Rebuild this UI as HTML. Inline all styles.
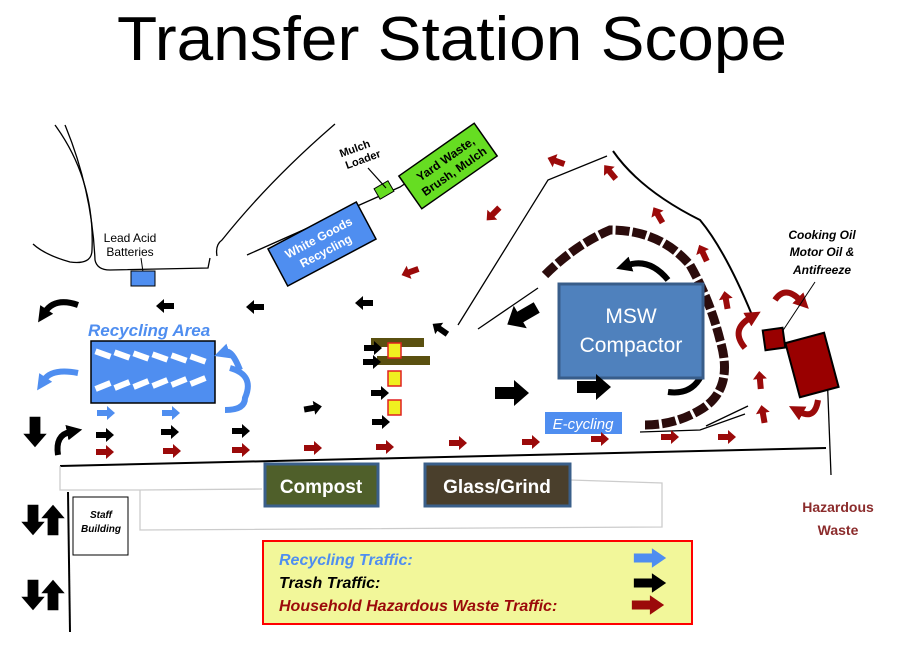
<!DOCTYPE html>
<html><head><meta charset="utf-8"><style>
html,body{margin:0;padding:0;background:#fff;}
svg{display:block;}
text{font-family:"Liberation Sans",sans-serif;}
</style></head><body>
<svg width="906" height="672" viewBox="0 0 906 672" xmlns="http://www.w3.org/2000/svg">
<defs>
<path id="a" d="M-9,-3 H1 V-7 L9,0 L1,7 V3 H-9 Z"/>
<path id="A" d="M-17,-6 H2 V-13 L17,0 L2,13 V6 H-17 Z"/>
<marker id="hk" viewBox="0 0 5 5" markerWidth="2.6" markerHeight="2.6" refX="1" refY="2.5" orient="auto"><path d="M0,0 L5,2.5 L0,5 Z" fill="#000"/></marker>
<marker id="hb" viewBox="0 0 5 5" markerWidth="2.6" markerHeight="2.6" refX="1" refY="2.5" orient="auto"><path d="M0,0 L5,2.5 L0,5 Z" fill="#4f8ef0"/></marker>
<marker id="hr" viewBox="0 0 5 5" markerWidth="2.6" markerHeight="2.6" refX="1" refY="2.5" orient="auto"><path d="M0,0 L5,2.5 L0,5 Z" fill="#9b0a0a"/></marker>
</defs>

<text x="452" y="60" font-size="62" text-anchor="middle" textLength="670" lengthAdjust="spacingAndGlyphs">Transfer Station Scope</text>

<!-- thin lines -->
<g fill="none" stroke="#000" stroke-width="1.3">
<path d="M55,125 Q95,180 92,250 Q92,265 70,262 Q45,255 33,244"/>
<path d="M65,125 Q92,190 95,260 Q97,270 110,270 L208,268 L210,258"/>
<path d="M217,256 Q215,245 222,240 Q270,180 335,124"/>
<path d="M247,255 L400,187 L440,160"/>
<path d="M458,325 L548,180 L607,156"/>
<path d="M478,329 L538,288"/>
<path d="M613,151 Q640,190 700,220 Q725,250 752,315" stroke-width="2"/>
<path d="M60,466 L826,448" stroke-width="2"/>
<path d="M60,466 L60,490 L140,490 L140,530 L662,527 L662,483 L570,480 M140,490 L262,489" stroke="#ccc"/>
<path d="M826,345 L831,475" />
<path d="M68,492 L70,632" stroke-width="2"/>
<path d="M640,432 L700,430 L745,414" />
<path d="M706,426 L748,406" />
</g>

<!-- brick arc -->
<path d="M545,275 Q575,245 610,230 Q660,230 690,265 Q710,300 720,340 Q735,390 700,410 Q675,425 645,425" fill="none" stroke="#2b0c0c" stroke-width="9" stroke-dasharray="14,3"/>

<!-- top left items -->
<text x="130" y="242" font-size="12" text-anchor="middle">Lead Acid</text>
<text x="130" y="256" font-size="12" text-anchor="middle">Batteries</text>
<line x1="141" y1="258" x2="143" y2="272" stroke="#000"/>
<rect x="131" y="271" width="24" height="15" fill="#4f8ef0" stroke="#000"/>

<g transform="translate(322,244) rotate(-28)">
<rect x="-50" y="-21" width="100" height="42" fill="#4f8ef0" stroke="#000" stroke-width="1.5"/>
<text x="0" y="-3" font-size="12" font-weight="bold" fill="#fff" text-anchor="middle">White Goods</text>
<text x="0" y="12" font-size="12" font-weight="bold" fill="#fff" text-anchor="middle">Recycling</text>
</g>
<g transform="translate(448,166) rotate(-35)">
<rect x="-46" y="-20" width="92" height="40" fill="#66dd22" stroke="#000" stroke-width="1.5"/>
<text x="2" y="-3" font-size="12" font-weight="bold" text-anchor="middle">Yard Waste,</text>
<text x="2" y="12" font-size="12" font-weight="bold" text-anchor="middle">Brush, Mulch</text>
</g>
<g transform="translate(384,190) rotate(-30)"><rect x="-8" y="-6" width="16" height="12" fill="#66dd22" stroke="#000"/></g>
<g transform="translate(356,152) rotate(-20)">
<text x="0" y="0" font-size="11" font-weight="bold" text-anchor="middle">Mulch</text>
<text x="4" y="13" font-size="11" font-weight="bold" text-anchor="middle">Loader</text>
</g>
<line x1="368" y1="168" x2="386" y2="188" stroke="#000" stroke-width="1.2"/>

<!-- recycling area -->
<text x="88" y="336" font-size="17" font-weight="bold" font-style="italic" fill="#4f8ef0">Recycling Area</text>
<rect x="91" y="341" width="124" height="62" fill="#4f8ef0" stroke="#000" stroke-width="1.5"/>
<g fill="#fff">
<g transform="translate(103,354) rotate(20)"><rect x="-8" y="-3" width="16" height="6"/></g>
<g transform="translate(122,355) rotate(20)"><rect x="-8" y="-3" width="16" height="6"/></g>
<g transform="translate(141,356) rotate(20)"><rect x="-8" y="-3" width="16" height="6"/></g>
<g transform="translate(160,357) rotate(20)"><rect x="-8" y="-3" width="16" height="6"/></g>
<g transform="translate(179,358) rotate(20)"><rect x="-8" y="-3" width="16" height="6"/></g>
<g transform="translate(198,359) rotate(20)"><rect x="-8" y="-3" width="16" height="6"/></g>
<g transform="translate(103,386) rotate(-22)"><rect x="-8" y="-3" width="16" height="6"/></g>
<g transform="translate(122,385) rotate(-22)"><rect x="-8" y="-3" width="16" height="6"/></g>
<g transform="translate(141,384) rotate(-22)"><rect x="-8" y="-3" width="16" height="6"/></g>
<g transform="translate(160,383) rotate(-22)"><rect x="-8" y="-3" width="16" height="6"/></g>
<g transform="translate(179,382) rotate(-22)"><rect x="-8" y="-3" width="16" height="6"/></g>
<g transform="translate(198,381) rotate(-22)"><rect x="-8" y="-3" width="16" height="6"/></g>
</g>

<!-- curved arrows -->
<g fill="none" stroke-width="6">
<path d="M78,305 Q55,297 45,312" stroke="#000" marker-end="url(#hk)"/>
<path d="M78,373 Q52,368 44,380" stroke="#4f8ef0" marker-end="url(#hb)"/>
<path d="M230,368 Q255,375 245,398 Q245,410 225,410" stroke="#4f8ef0"/>
<path d="M240,370 Q232,350 226,352" stroke="#4f8ef0" marker-end="url(#hb)"/>
<path d="M58,455 Q55,435 70,432" stroke="#000" marker-end="url(#hk)"/>
<path d="M668,280 Q650,258 628,265" stroke="#000" marker-end="url(#hk)"/>
<path d="M700,378 Q690,395 668,392" stroke="#000"/>
<path d="M745,348 Q730,330 750,318" stroke="#9b0a0a" marker-end="url(#hr)"/>
<path d="M775,300 Q785,285 800,300" stroke="#9b0a0a" marker-end="url(#hr)"/>
<path d="M818,400 Q815,420 800,412" stroke="#9b0a0a" marker-end="url(#hr)"/>
</g>

<!-- stations -->
<rect x="371" y="338" width="53" height="9" fill="#5a5010"/>
<rect x="377" y="356" width="53" height="9" fill="#5a5010"/>
<g fill="#f0f020" stroke="#e02020" stroke-width="1.5">
<rect x="388" y="343" width="13" height="15"/><rect x="388" y="371" width="13" height="15"/><rect x="388" y="400" width="13" height="15"/>
</g>

<!-- MSW -->
<rect x="559" y="284" width="144" height="94" fill="#4f81bd" stroke="#385d8a" stroke-width="3"/>
<text x="631" y="323" font-size="21" fill="#fff" text-anchor="middle">MSW</text>
<text x="631" y="352" font-size="21" fill="#fff" text-anchor="middle">Compactor</text>
<rect x="545" y="412" width="77" height="22" fill="#4f8ef0"/>
<text x="583" y="429" font-size="15" font-style="italic" fill="#fff" text-anchor="middle">E-cycling</text>

<!-- hazardous -->
<text x="822" y="239" font-size="12" font-weight="bold" font-style="italic" text-anchor="middle">Cooking Oil</text>
<text x="822" y="256" font-size="12" font-weight="bold" font-style="italic" text-anchor="middle">Motor Oil &amp;</text>
<text x="822" y="274" font-size="12" font-weight="bold" font-style="italic" text-anchor="middle">Antifreeze</text>
<line x1="815" y1="282" x2="778" y2="338" stroke="#000"/>
<g transform="translate(774,339) rotate(-8)"><rect x="-10" y="-10" width="20" height="20" fill="#990000" stroke="#000" stroke-width="2"/></g>
<g transform="translate(812,365) rotate(-15)"><rect x="-20" y="-28" width="40" height="56" fill="#990000" stroke="#000" stroke-width="2"/></g>
<text x="838" y="512" font-size="14" font-weight="bold" fill="#8b2b2b" text-anchor="middle">Hazardous</text>
<text x="838" y="535" font-size="14" font-weight="bold" fill="#8b2b2b" text-anchor="middle">Waste</text>

<!-- boxes bottom -->
<rect x="265" y="464" width="113" height="42" fill="#4f5f2a" stroke="#3a5f8a" stroke-width="3"/>
<text x="321" y="493" font-size="19" font-weight="bold" fill="#fff" text-anchor="middle">Compost</text>
<rect x="425" y="464" width="145" height="42" fill="#4a3f2c" stroke="#3a5f8a" stroke-width="3"/>
<text x="497" y="493" font-size="19" font-weight="bold" fill="#fff" text-anchor="middle">Glass/Grind</text>
<rect x="73" y="497" width="55" height="58" fill="#fff" stroke="#000"/>
<text x="101" y="518" font-size="10" font-weight="bold" font-style="italic" text-anchor="middle">Staff</text>
<text x="101" y="532" font-size="10" font-weight="bold" font-style="italic" text-anchor="middle">Building</text>

<!-- legend -->
<rect x="263" y="541" width="429" height="83" fill="#f2f79a" stroke="#f00" stroke-width="2"/>
<text x="279" y="565" font-size="16" font-weight="bold" font-style="italic" fill="#4f8ef0">Recycling Traffic:</text>
<text x="279" y="588" font-size="16" font-weight="bold" font-style="italic" fill="#000">Trash Traffic:</text>
<text x="279" y="611" font-size="16" font-weight="bold" font-style="italic" fill="#9b0a0a">Household Hazardous Waste Traffic:</text>
<use href="#A" transform="translate(650,558) scale(0.95,0.75)" fill="#4f8ef0"/>
<use href="#A" transform="translate(650,583) scale(0.95,0.75)" fill="#000"/>
<use href="#A" transform="translate(648,605) scale(0.95,0.75)" fill="#9b0a0a"/>

<!-- small arrows -->
<g fill="#4f8ef0"><use href="#a" transform="translate(106,413)"/><use href="#a" transform="translate(171,413)"/></g>
<g fill="#000">
<use href="#a" transform="translate(105,435)"/><use href="#a" transform="translate(170,432)"/><use href="#a" transform="translate(241,431)"/>
<use href="#a" transform="translate(313,408) rotate(-10)"/><use href="#a" transform="translate(380,393)"/><use href="#a" transform="translate(381,422)"/><use href="#a" transform="translate(372,362)"/>
<use href="#a" transform="translate(165,306) rotate(180)"/><use href="#a" transform="translate(255,307) rotate(180)"/><use href="#a" transform="translate(364,303) rotate(180)"/>
<use href="#a" transform="translate(440,329) rotate(-145)"/><use href="#a" transform="translate(373,348)"/>
</g>
<g fill="#9b0a0a">
<use href="#a" transform="translate(105,452)"/><use href="#a" transform="translate(172,451)"/><use href="#a" transform="translate(241,450)"/><use href="#a" transform="translate(313,448)"/><use href="#a" transform="translate(385,447)"/><use href="#a" transform="translate(458,443)"/><use href="#a" transform="translate(531,442)"/><use href="#a" transform="translate(600,439)"/><use href="#a" transform="translate(670,437)"/><use href="#a" transform="translate(727,437)"/>
<use href="#a" transform="translate(493,214) rotate(135)"/><use href="#a" transform="translate(410,272) rotate(160)"/><use href="#a" transform="translate(556,161) rotate(200)"/>
<use href="#a" transform="translate(610,172) rotate(-130)"/><use href="#a" transform="translate(658,215) rotate(-120)"/><use href="#a" transform="translate(703,253) rotate(-115)"/><use href="#a" transform="translate(726,300) rotate(-100)"/><use href="#a" transform="translate(760,380) rotate(-95)"/><use href="#a" transform="translate(763,414) rotate(-100)"/>
</g>
<g fill="#000">
<use href="#A" transform="translate(512,393)"/><use href="#A" transform="translate(594,387)"/><use href="#A" transform="translate(522,316) rotate(150)"/>
<use href="#A" transform="translate(35,432) rotate(90) scale(0.9)"/>
<use href="#A" transform="translate(33,520) rotate(90) scale(0.9)"/><use href="#A" transform="translate(53,520) rotate(-90) scale(0.9)"/>
<use href="#A" transform="translate(33,595) rotate(90) scale(0.9)"/><use href="#A" transform="translate(53,595) rotate(-90) scale(0.9)"/>
</g>
</svg>
</body></html>
